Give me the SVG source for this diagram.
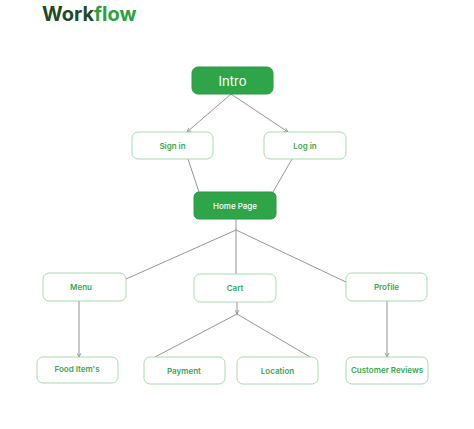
<svg xmlns="http://www.w3.org/2000/svg" width="474" height="429" viewBox="0 0 474 429">
<style>
.box{fill:#ffffff;stroke:#a9dbb3;stroke-width:1}
.solid{fill:#2ea548;stroke:#2a9a43;stroke-width:1}
.lbl{font-family:Inter,"Noto Sans",sans-serif;font-size:8px;font-weight:600;fill:#36a852;text-anchor:middle;dominant-baseline:central}
.wl{font-family:Inter,"Noto Sans",sans-serif;fill:#ffffff;text-anchor:middle;dominant-baseline:central}
.ln{stroke:#7a7a7a;stroke-width:0.8;fill:none}
</style>
<defs>
<marker id="ah" viewBox="0 0 10 10" refX="9" refY="5" markerWidth="5" markerHeight="5" orient="auto" markerUnits="userSpaceOnUse">
<path d="M1,1 L9,5 L1,9" fill="none" stroke="#7a7a7a" stroke-width="1.4"/>
</marker>
</defs>
<rect width="474" height="429" fill="#ffffff"/>
<text x="42" y="21" font-family="Inter,'Noto Sans',sans-serif" font-size="20" font-weight="700"><tspan fill="#1e4a2a">Work</tspan><tspan fill="#2ea043">flow</tspan></text>
<g id="connectors">
<line class="ln" x1="231" y1="94" x2="187" y2="132" marker-end="url(#ah)"/>
<line class="ln" x1="231" y1="94" x2="288" y2="132" marker-end="url(#ah)"/>
<line class="ln" x1="188" y1="159" x2="199" y2="192"/>
<line class="ln" x1="292" y1="159" x2="273" y2="192"/>
<line class="ln" x1="236" y1="219" x2="236" y2="230"/>
<line class="ln" x1="236" y1="230" x2="126" y2="279"/>
<line class="ln" x1="236" y1="230" x2="236" y2="274"/>
<line class="ln" x1="236" y1="230" x2="346" y2="282"/>
<line class="ln" x1="79" y1="301" x2="79" y2="357" marker-end="url(#ah)"/>
<line class="ln" x1="237" y1="302" x2="237" y2="314" marker-end="url(#ah)"/>
<line class="ln" x1="237" y1="314" x2="155" y2="357"/>
<line class="ln" x1="237" y1="314" x2="310" y2="357"/>
<line class="ln" x1="387" y1="301" x2="387" y2="357" marker-end="url(#ah)"/>
</g>
<g id="intro"><rect class="solid" x="192" y="67" width="81" height="27" rx="6"/><text class="wl" x="232.5" y="80.5" font-size="13">Intro</text></g>
<g id="signin"><rect class="box" x="132" y="132" width="81" height="27" rx="6"/><text class="lbl" x="172.5" y="145.5">Sign in</text></g>
<g id="login"><rect class="box" x="264" y="132" width="82" height="27" rx="6"/><text class="lbl" x="305" y="145.5">Log in</text></g>
<g id="home"><rect class="solid" x="194" y="192" width="82" height="27" rx="5"/><text class="wl" x="235" y="205.5" font-size="8" font-weight="500">Home Page</text></g>
<g id="menu"><rect class="box" x="43" y="273" width="83" height="28" rx="6"/><text class="lbl" x="81" y="286.5">Menu</text></g>
<g id="cart"><rect class="box" x="194" y="274" width="82" height="28" rx="6"/><text class="lbl" x="235" y="288">Cart</text></g>
<g id="profile"><rect class="box" x="346" y="273" width="81" height="28" rx="6"/><text class="lbl" x="386.5" y="287">Profile</text></g>
<g id="fooditems"><rect class="box" x="37" y="357" width="81" height="26" rx="6"/><text class="lbl" x="77" y="369">Food Item's</text></g>
<g id="payment"><rect class="box" x="144" y="357" width="81" height="27" rx="6"/><text class="lbl" x="184" y="370.5">Payment</text></g>
<g id="location"><rect class="box" x="237" y="357" width="81" height="27" rx="6"/><text class="lbl" x="277.5" y="370.5">Location</text></g>
<g id="reviews"><rect class="box" x="346" y="357" width="82" height="27" rx="6"/><text class="lbl" x="387" y="369.5">Customer Reviews</text></g>
</svg>
